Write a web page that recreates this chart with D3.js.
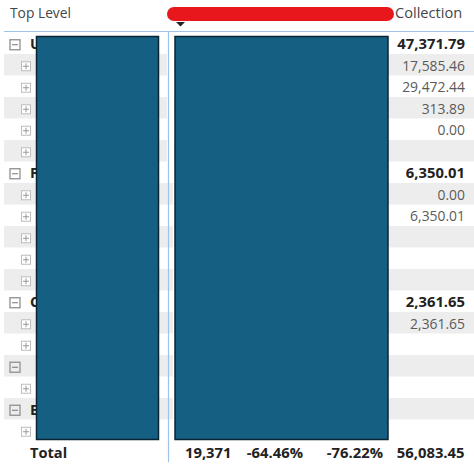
<!DOCTYPE html>
<meta charset="utf-8">
<title>Collection matrix</title>
<style>
body { margin: 0; background: #fff; }
text { font-family: "Open Sans", sans-serif; }
</style>
<body>
<script src="https://d3js.org/d3.v7.min.js"></script>
<script>

// one entry per table row, top to bottom
var rowLabels = ["U", "", "", "", "", "", "P", "", "", "", "", "", "C", "", "", "", "", "E", ""];
var rowLevels = [0, 1, 1, 1, 1, 1, 0, 1, 1, 1, 1, 1, 0, 1, 1, 0, 1, 0, 1];
var collection = ["47,371.79", "17,585.46", "29,472.44", "313.89", "0.00", "",
                  "6,350.01", "0.00", "6,350.01", "", "", "",
                  "2,361.65", "2,361.65", "", "", "", "", ""];
var totalLabels = ["19,371", "-64.46%", "-76.22%", "56,083.45"];
var totalEdges = [231.5, 303, 383, 464.5];

var width = 474, height = 465;
var svg = d3.select("body").append("svg").attr("width", width).attr("height", height);

var y = d3.scaleBand().domain(d3.range(20)).range([32.5, 462.5]);
var rowH = y.bandwidth();

// alternating bands
var bands = d3.range(19).filter(function(i) { return i % 2 == 1; });
svg.selectAll(".bandL").data(bands).enter().append("rect")
    .attr("x", 4).attr("y", function(i) { return y(i); })
    .attr("width", function(i) { return i < 6 ? 163 : 169; }).attr("height", rowH)
    .attr("fill", "#eeeded");
svg.selectAll(".bandR").data(bands).enter().append("rect")
    .attr("x", 174).attr("y", function(i) { return y(i); })
    .attr("width", 300).attr("height", rowH)
    .attr("fill", "#eeeded");

// header
svg.append("text").attr("x", 10).attr("y", 17.5).attr("font-size", 13.8).attr("fill", "#44474a").text("Top Level");
svg.append("text").attr("x", 395).attr("y", 17.5).attr("font-size", 14.6).attr("fill", "#44474a").text("Collection");
svg.append("path").attr("d", "M176 22L185 22L180.5 26.5Z").attr("fill", "#222");

// rules
svg.append("line").attr("x1", 4).attr("x2", 474).attr("y1", 31.5).attr("y2", 31.5).attr("stroke", "#9dc3e6").attr("stroke-width", 1.2);
svg.append("line").attr("x1", 168.5).attr("x2", 168.5).attr("y1", 31).attr("y2", 462).attr("stroke", "#9dc3e6").attr("stroke-width", 1.2);

// expand / collapse boxes, they sit a bit under the middle of the band
var rows = svg.selectAll(".row").data(rowLevels).enter().append("g")
    .attr("transform", function(d, i) { return "translate(0," + (y(i) + rowH / 2 + 1) + ")"; });
rows.each(function(level) {
  var g = d3.select(this);
  var s = level == 0 ? 10 : 9, cx = level == 0 ? 15 : 26;
  g.append("rect").attr("x", cx - s / 2).attr("y", -s / 2 + 0.5).attr("width", s).attr("height", s)
      .attr("fill", level == 0 ? "none" : "#fff").attr("stroke", level == 0 ? "#8f8f8f" : "#bdbdbd").attr("stroke-width", level == 0 ? 1.3 : 1);
  g.append("line").attr("x1", cx - 3).attr("x2", cx + 3).attr("y1", 0.5).attr("y2", 0.5).attr("stroke", level == 0 ? "#777" : "#999");
  if (level == 1) g.append("line").attr("y1", -2.5).attr("y2", 3.5).attr("x1", cx).attr("x2", cx).attr("stroke", "#999");
});
rows.append("text").attr("x", 30).attr("dy", "0.35em").attr("font-size", 14.6).attr("font-weight", 700)
    .attr("fill", "#222").text(function(d, i) { return rowLabels[i]; });
rows.append("text").attr("x", 465).attr("text-anchor", "end").attr("dy", "0.35em")
    .attr("font-size", function(d) { return d == 0 ? 14.8 : 13.9; })
    .attr("font-weight", function(d) { return d == 0 ? 700 : 400; })
    .attr("fill", function(d) { return d == 0 ? "#222" : "#5a5a5a"; })
    .text(function(d, i) { return collection[i]; });

// total row
var totalY = y(19) + rowH / 2 + 1;
svg.append("text").attr("x", 30).attr("y", totalY).attr("dy", "0.35em").attr("font-size", 14.6).attr("font-weight", 700).attr("fill", "#222").text("Total");
svg.selectAll(".total").data(totalLabels).enter().append("text")
    .attr("x", function(d, i) { return totalEdges[i]; }).attr("y", totalY).attr("dy", "0.35em")
    .attr("text-anchor", "end").attr("font-size", 14.8).attr("font-weight", 700).attr("fill", "#222")
    .text(function(d) { return d; });

// blocks painted over the original table
svg.append("rect").attr("x", 36.5).attr("y", 36.5).attr("width", 122).attr("height", 403)
    .attr("fill", "#155f83").attr("stroke", "#0b2433").attr("stroke-width", 1.5);
svg.append("rect").attr("x", 175).attr("y", 36.5).attr("width", 213).attr("height", 403)
    .attr("fill", "#155f83").attr("stroke", "#0b2433").attr("stroke-width", 1.5);
svg.append("rect").attr("x", 167).attr("y", 7).attr("width", 227).attr("height", 14).attr("rx", 7)
    .attr("fill", "#e8171b");

</script>
